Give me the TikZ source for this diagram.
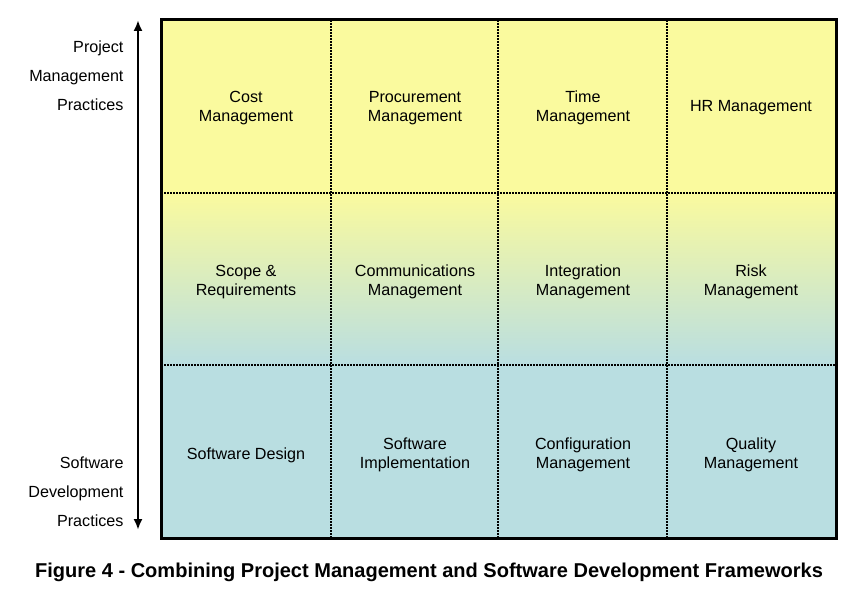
\documentclass[tikz,border=0pt]{standalone}
\usepackage{fontspec}
\setmainfont{Liberation Sans}
\usetikzlibrary{arrows.meta}

\definecolor{pmyellow}{RGB}{250,250,158}
\definecolor{sdblue}{RGB}{185,222,225}

\tikzset{
  cell/.style={align=center, font=\fontsize{16.2}{19.5}\selectfont},
  side/.style={align=right, anchor=east, font=\fontsize{16.2}{29}\selectfont},
  divider/.style={line width=2bp, dash pattern=on 1.8bp off 1.2bp},
}

\begin{document}
\begin{tikzpicture}[x=1bp,y=-1bp]
    \useasboundingbox (0,0) rectangle (853,590);
    % background bands
    \fill[pmyellow] (161,20) rectangle (836,193);
    \shade[top color=pmyellow,bottom color=sdblue] (161,193) rectangle (836,365);
    \fill[sdblue] (161,365) rectangle (836,538);
    \foreach \x in {331,498,667} \draw[divider] (\x,20) -- (\x,538);
    \foreach \y in {193,365} \draw[divider] (161,\y) -- (836,\y);
    \draw[line width=3bp] (161,20) rectangle (836,538);
    % cells
    \node[cell] (cost) at (246,108) {Cost\\Management};
    \node[cell] (procure) at (415,108) {Procurement\\Management};
    \node[cell] (time) at (583,108) {Time\\Management};
    \node[cell] (hr) at (751,108) {HR Management};
    \node[cell] (scope) at (246,282) {Scope \&\\Requirements};
    \node[cell] (comms) at (415,282) {Communications\\Management};
    \node[cell] (integ) at (583,282) {Integration\\Management};
    \node[cell] (risk) at (751,282) {Risk\\Management};
    \node[cell] (design) at (246,455) {Software Design};
    \node[cell] (impl) at (415,455) {Software\\Implementation};
    \node[cell] (config) at (583,455) {Configuration\\Management};
    \node[cell] (quality) at (751,455) {Quality\\Management};
    % axis
    \node[side] (pm) at (127,76) {Project\\Management\\Practices};
    \node[side] (sd) at (127,492) {Software\\Development\\Practices};
    \coordinate (axtop) at (138,20);
    \coordinate (axbot) at (138,530);
    \draw[{Latex[length=11bp,width=9bp]}-{Latex[length=11bp,width=9bp]}, line width=2.4bp] (axbot) -- (axtop);
    \node[anchor=base, font=\bfseries\fontsize{20.1}{24}\selectfont] (caption) at (429,577)
      {Figure 4 - Combining Project Management and Software Development Frameworks};
\end{tikzpicture}
\end{document}
